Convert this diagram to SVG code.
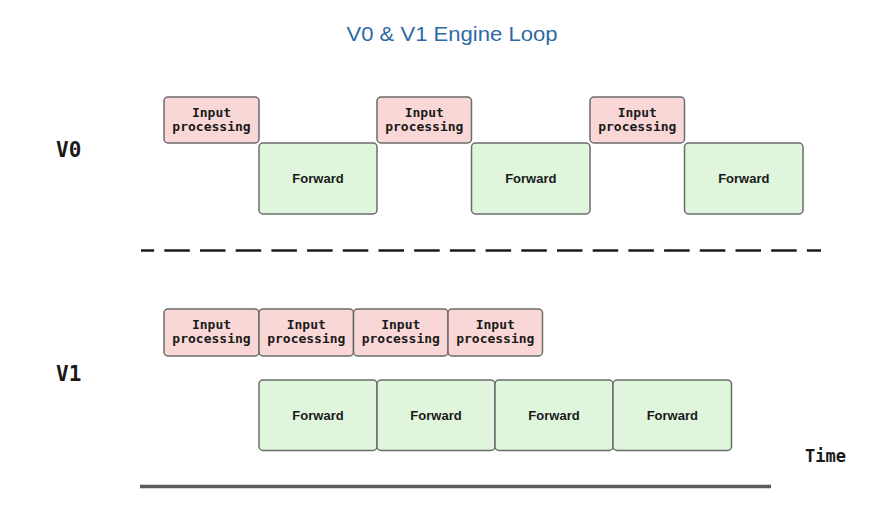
<svg xmlns="http://www.w3.org/2000/svg" width="886" height="511" viewBox="0 0 886 511">
<style>
.inp rect{fill:#f9d7d7;stroke:#6b6b6b;stroke-width:1.5}
.fwd rect{fill:#dff5dc;stroke:#6b6b6b;stroke-width:1.5}
.mono{font-family:"DejaVu Sans Mono","Liberation Mono",monospace;font-weight:bold;fill:#1a1a1a}
.it{font-size:13px;text-anchor:middle}
.ft{font-family:"Liberation Sans",Arial,sans-serif;font-weight:bold;font-size:13px;fill:#1a1a1a;text-anchor:middle}
.lbl{font-size:21px}
</style>
<rect width="886" height="511" fill="#ffffff"/>
<text x="452" y="41" text-anchor="middle" font-family="'Liberation Sans',Arial,sans-serif" font-size="20" fill="#2d6aa3" textLength="211" lengthAdjust="spacingAndGlyphs">V0 &amp; V1 Engine Loop</text>
<text class="mono lbl" x="56" y="157">V0</text>
<text class="mono lbl" x="56" y="381">V1</text>
<text class="mono" x="805" y="462" font-size="17">Time</text>
<g id="v0-input-1" class="inp"><rect x="164" y="97" width="95" height="46" rx="4"/><text class="mono it" x="211.5" y="116.5">Input</text><text class="mono it" x="211.5" y="130.5">processing</text></g>
<g id="v0-forward-1" class="fwd"><rect x="259" y="143" width="118" height="71" rx="4"/><text class="ft" x="318" y="183">Forward</text></g>
<g id="v0-input-2" class="inp"><rect x="377" y="97" width="94.5" height="46" rx="4"/><text class="mono it" x="424.3" y="116.5">Input</text><text class="mono it" x="424.3" y="130.5">processing</text></g>
<g id="v0-forward-2" class="fwd"><rect x="471.5" y="143" width="118.5" height="71" rx="4"/><text class="ft" x="530.8" y="183">Forward</text></g>
<g id="v0-input-3" class="inp"><rect x="590" y="97" width="94.5" height="46" rx="4"/><text class="mono it" x="637.3" y="116.5">Input</text><text class="mono it" x="637.3" y="130.5">processing</text></g>
<g id="v0-forward-3" class="fwd"><rect x="684.5" y="143" width="118.5" height="71" rx="4"/><text class="ft" x="743.8" y="183">Forward</text></g>
<g id="v1-input-1" class="inp"><rect x="164" y="309" width="95" height="47" rx="4"/><text class="mono it" x="211.5" y="329">Input</text><text class="mono it" x="211.5" y="343">processing</text></g>
<g id="v1-input-2" class="inp"><rect x="259" y="309" width="94.5" height="47" rx="4"/><text class="mono it" x="306.3" y="329">Input</text><text class="mono it" x="306.3" y="343">processing</text></g>
<g id="v1-input-3" class="inp"><rect x="353.5" y="309" width="94.5" height="47" rx="4"/><text class="mono it" x="400.8" y="329">Input</text><text class="mono it" x="400.8" y="343">processing</text></g>
<g id="v1-input-4" class="inp"><rect x="448" y="309" width="94.5" height="47" rx="4"/><text class="mono it" x="495.3" y="329">Input</text><text class="mono it" x="495.3" y="343">processing</text></g>
<g id="v1-forward-1" class="fwd"><rect x="259" y="380" width="118" height="70.5" rx="4"/><text class="ft" x="318" y="419.5">Forward</text></g>
<g id="v1-forward-2" class="fwd"><rect x="377" y="380" width="118" height="70.5" rx="4"/><text class="ft" x="436" y="419.5">Forward</text></g>
<g id="v1-forward-3" class="fwd"><rect x="495" y="380" width="118" height="70.5" rx="4"/><text class="ft" x="554" y="419.5">Forward</text></g>
<g id="v1-forward-4" class="fwd"><rect x="613" y="380" width="118.5" height="70.5" rx="4"/><text class="ft" x="672.3" y="419.5">Forward</text></g>
<g id="connectors">
<line x1="141" y1="250.5" x2="821" y2="250.5" stroke="#1a1a1a" stroke-width="2.5" stroke-dasharray="25.5 10.2" stroke-dashoffset="12.4"/>
<line x1="140" y1="486.5" x2="771" y2="486.5" stroke="#5a5a5a" stroke-width="3.5"/>
</g>
</svg>
